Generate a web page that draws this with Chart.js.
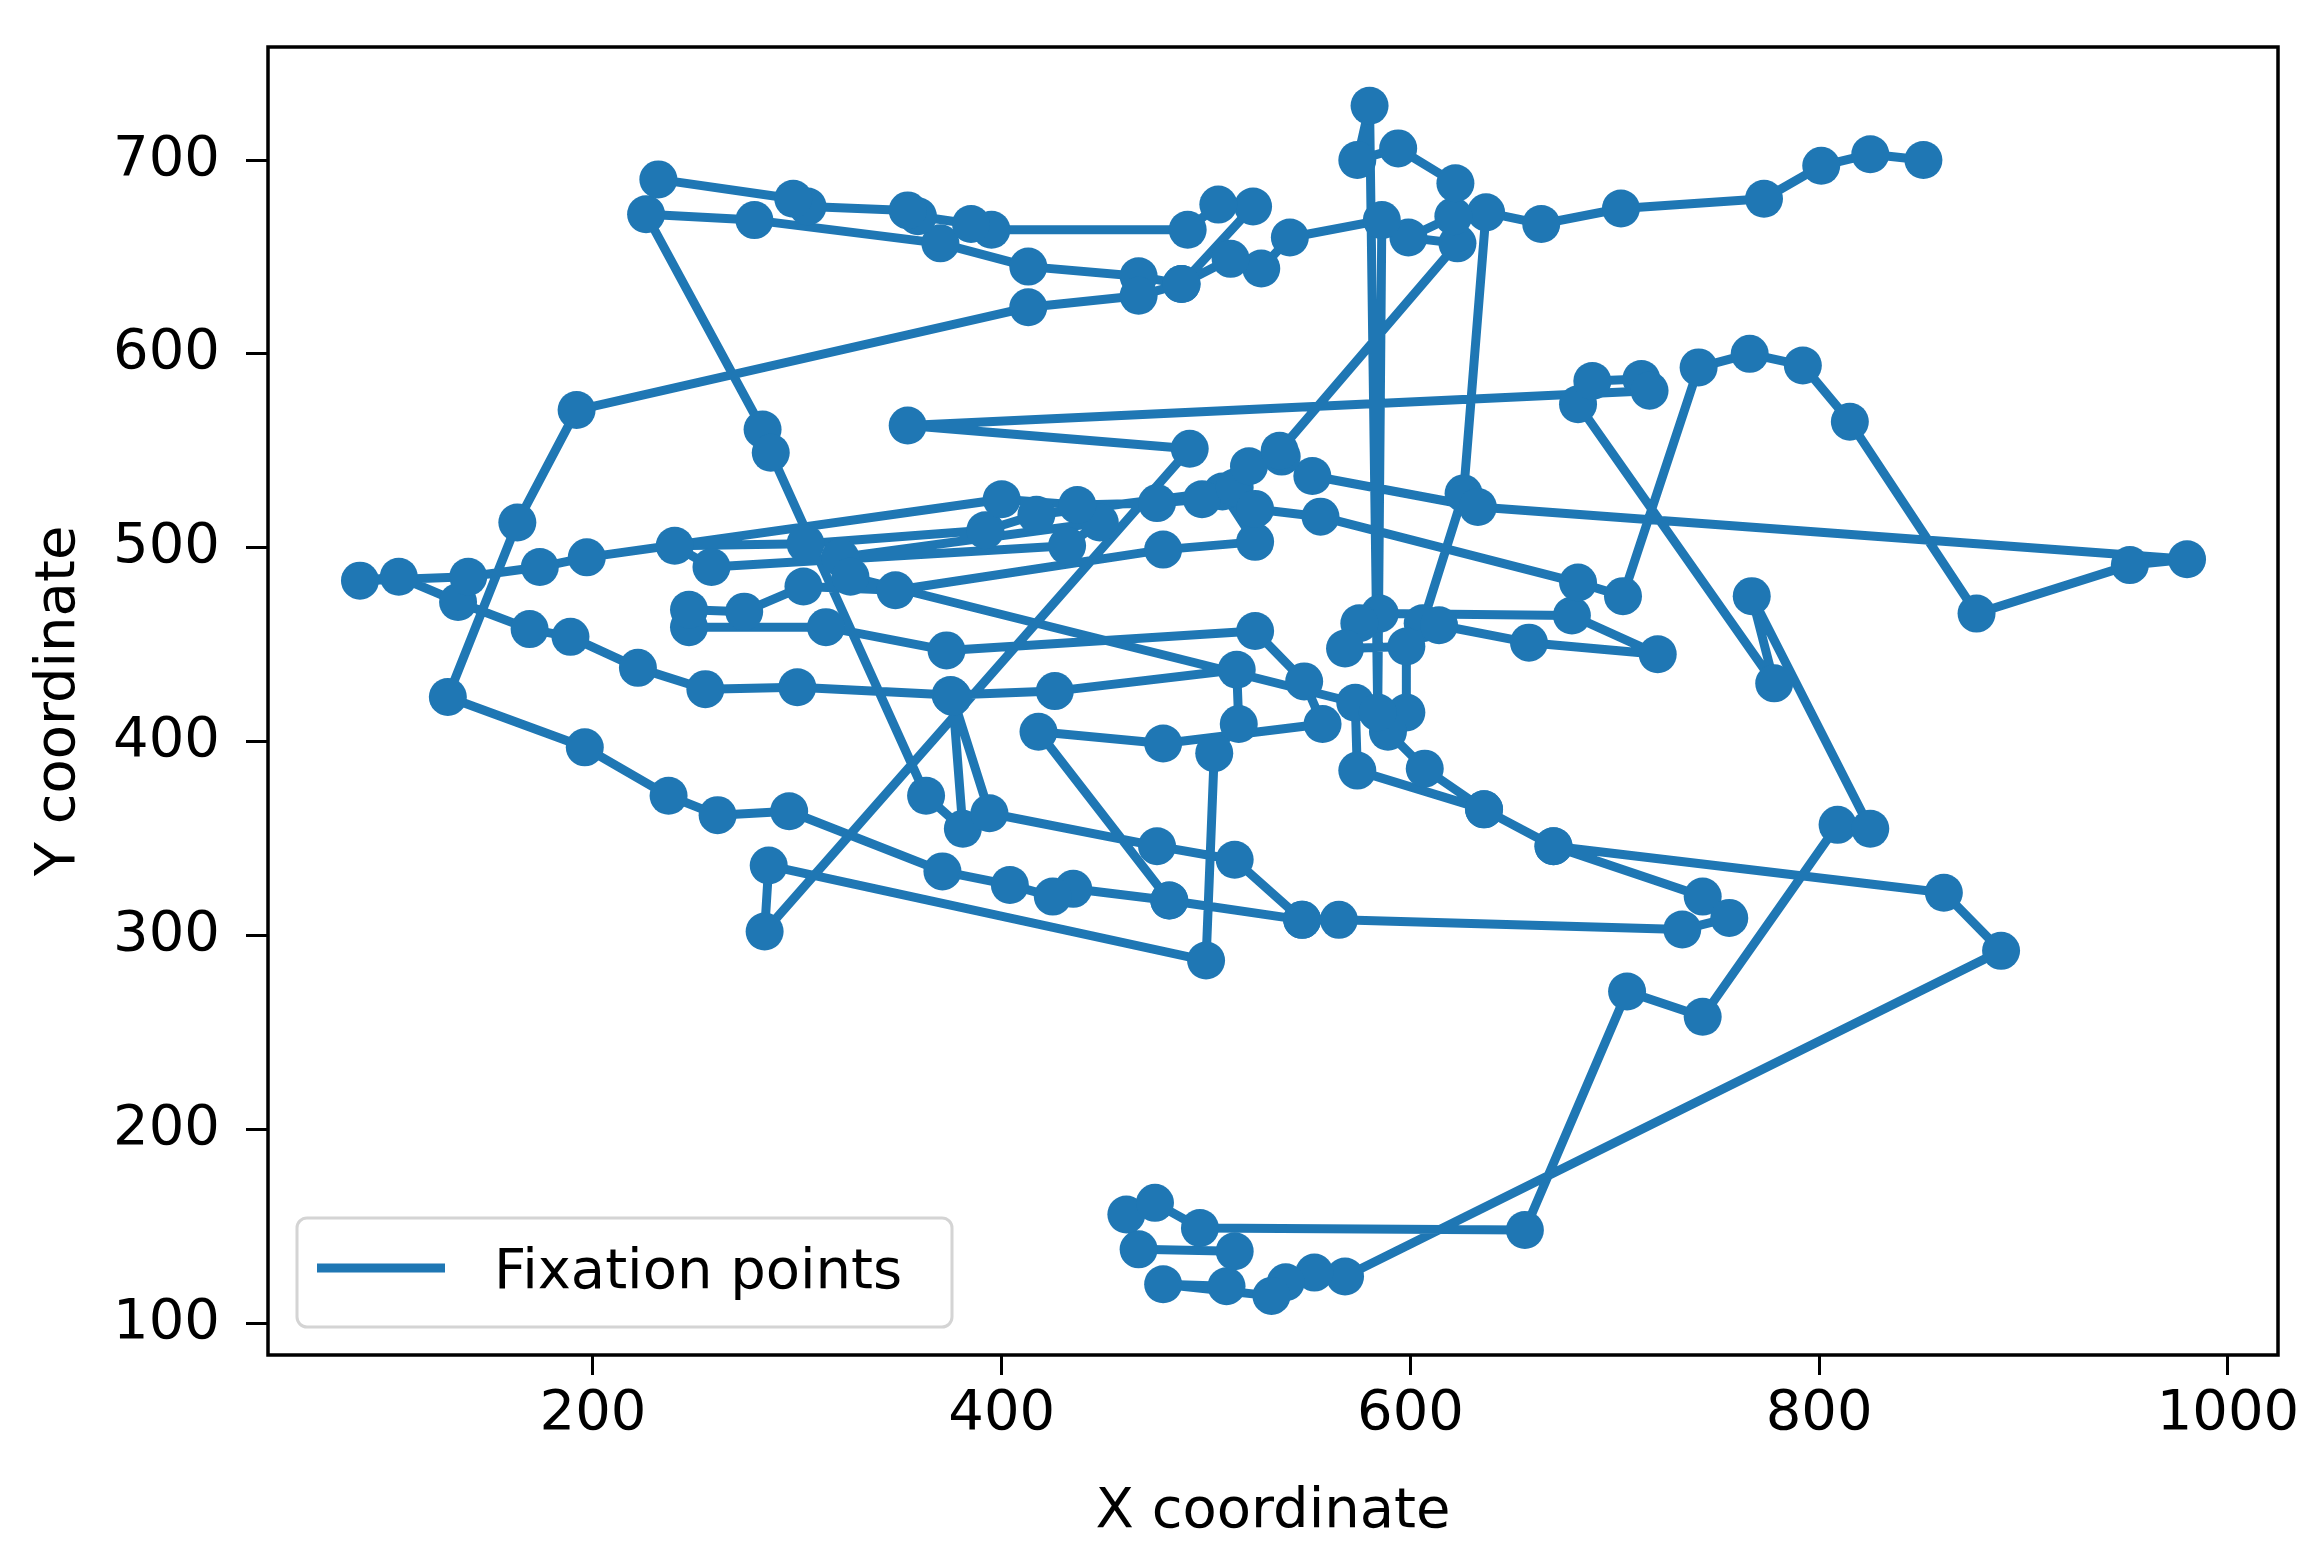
<!DOCTYPE html>
<html>
<head>
<meta charset="utf-8">
<script src="https://cdn.jsdelivr.net/npm/chart.js@4.4.0/dist/chart.umd.min.js"></script>
<style>
    html, body { margin: 0; padding: 0; background: #fff; }
    canvas { display: block; }
</style>
</head>
<body>
<canvas id="fixChart" width="2323" height="1549" style="width:2323px;height:1549px"></canvas>
<script>
// fixation path in drawing order
const xValues = [
    851, 825, 801, 773, 703, 664, 637, 626, 606, 614, 658, 721, 679, 585, 575, 568, 598, 598, 589, 607,
    636, 670, 743, 756, 733, 565, 547, 482, 418, 479, 557, 548, 524, 373, 314, 247, 247, 274, 303, 348,
    479, 524, 508, 417, 392, 304, 240, 258, 432, 448, 321, 326,
    573, 574, 636, 670, 861, 889, 568, 553, 539, 532, 479, 510,
    514, 467, 461, 475, 497, 656, 706, 743, 809, 825, 767, 778, 682, 689, 713, 717, 354, 492, 284, 286,
    500, 504, 516, 515, 426, 375, 300, 255, 222, 189, 169, 134, 105, 86, 139, 174, 197, 400, 437, 476,
    498, 514, 524, 556, 682, 704, 741, 766, 792, 815, 877, 952, 980, 633, 552, 537, 521, 536, 623, 599,
    621, 622, 594, 574, 580, 584, 586,
    541, 527, 512, 488, 467, 413, 370, 279, 226, 283, 287, 363, 381, 376, 394, 476, 514, 547, 482, 435, 425,
    404, 371, 296, 261, 237, 196, 129, 163, 192, 413, 467, 488, 523, 506, 491, 395, 385, 359, 354, 305,
    298, 232
];
const yValues = [
    700, 703, 697, 680, 675, 667, 673, 528, 461, 460, 451, 445, 465, 466, 461, 448, 449, 415, 405, 386,
    365, 346, 320, 309, 303, 308, 308, 318, 405, 399, 409, 431, 457, 447, 459, 459, 468, 467, 480, 478,
    499, 503, 529, 517, 509, 502, 501, 490, 501, 513, 495, 485,
    420, 385, 365, 346, 322, 292, 124, 126, 121, 114, 120, 119,
    137, 138, 156, 162, 149, 148, 271, 258, 357, 355, 475, 430, 574, 586, 587, 581, 563, 551, 302, 336,
    287, 394, 409, 437, 426, 424, 428, 427, 438, 454, 458, 472, 485, 483, 485, 490, 495, 525, 522, 523,
    525, 531, 520, 516, 482, 475, 593, 600, 594, 565, 466, 491, 494, 521, 537, 547, 542, 550, 657, 660,
    671, 688, 706, 700, 728, 415, 669,
    660, 644, 649, 636, 640, 645, 657, 669, 672, 561, 549, 372, 355, 423, 363, 346, 339, 308, 318, 324, 320,
    326, 333, 364, 362, 372, 397, 423, 513, 571, 624, 630, 636, 676, 677, 664, 664, 667, 671, 674, 676,
    680, 690
];
const xTicks = [200, 400, 600, 800, 1000];
const yTicks = [100, 200, 300, 400, 500, 600, 700];
const seriesName = 'Fixation points';
const xTitle = 'X coordinate';
const yTitle = 'Y coordinate';

const blue = '#1f77b4';
const fontFam = '"DejaVu Sans", sans-serif';

const points = xValues.map((x, i) => ({ x: x, y: yValues[i] }));

// frame, axis titles and legend box drawn like matplotlib
const decorPlugin = {
    id: 'decor',
    afterDraw(chart) {
        const ctx = chart.ctx;
        const a = chart.chartArea;
        ctx.save();
        ctx.strokeStyle = '#000';
        ctx.lineWidth = 3.5;
        ctx.strokeRect(a.left, a.top, a.right - a.left, a.bottom - a.top);

        ctx.fillStyle = '#000';
        ctx.font = '56px ' + fontFam;
        ctx.textAlign = 'center';
        ctx.textBaseline = 'alphabetic';
        ctx.fillText(xTitle, (a.left + a.right) / 2, 1527);

        ctx.save();
        ctx.translate(74, (a.top + a.bottom) / 2);
        ctx.rotate(-Math.PI / 2);
        ctx.fillText(yTitle, 0, 0);
        ctx.restore();

        // legend
        const bx = 297, by = 1218, bw = 655, bh = 109, r = 10;
        ctx.beginPath();
        ctx.moveTo(bx + r, by);
        ctx.arcTo(bx + bw, by, bx + bw, by + bh, r);
        ctx.arcTo(bx + bw, by + bh, bx, by + bh, r);
        ctx.arcTo(bx, by + bh, bx, by, r);
        ctx.arcTo(bx, by, bx + bw, by, r);
        ctx.closePath();
        ctx.fillStyle = 'rgba(255,255,255,0.8)';
        ctx.fill();
        ctx.strokeStyle = '#d4d4d4';
        ctx.lineWidth = 3;
        ctx.stroke();

        ctx.strokeStyle = blue;
        ctx.lineWidth = 9;
        ctx.beginPath();
        ctx.moveTo(317, 1268);
        ctx.lineTo(445, 1268);
        ctx.stroke();

        ctx.fillStyle = '#000';
        ctx.textAlign = 'left';
        ctx.fillText(seriesName, 494, 1288);
        ctx.restore();
    }
};

new Chart(document.getElementById('fixChart').getContext('2d'), {
    type: 'scatter',
    data: {
        datasets: [{
            label: seriesName,
            data: points,
            showLine: true,
            borderColor: blue,
            backgroundColor: blue,
            borderWidth: 9,
            borderJoinStyle: 'round',
            borderCapStyle: 'round',
            pointRadius: 19,
            pointHoverRadius: 19,
            pointBorderWidth: 0,
            tension: 0
        }]
    },
    options: {
        responsive: false,
        animation: false,
        devicePixelRatio: 1,
        layout: { padding: { top: 47, right: 45, left: 0, bottom: 0 } },
        plugins: {
            legend: { display: false },
            tooltip: { enabled: false }
        },
        scales: {
            x: {
                type: 'linear',
                min: 41,
                max: 1024.5,
                afterBuildTicks: (s) => { s.ticks = xTicks.map(v => ({ value: v })); },
                afterFit: (s) => { s.height = 194; s.paddingLeft = 0; s.paddingRight = 0; },
                border: { display: false },
                grid: { drawOnChartArea: false, drawTicks: true, tickLength: 20, tickWidth: 3, color: '#000' },
                ticks: {
                    color: '#000', padding: 6, maxRotation: 0,
                    font: { family: fontFam, size: 56 },
                    callback: (v) => String(v)
                }
            },
            y: {
                type: 'linear',
                min: 83.5,
                max: 758.3,
                afterBuildTicks: (s) => { s.ticks = yTicks.map(v => ({ value: v })); },
                afterFit: (s) => { s.width = 268; s.paddingTop = 0; s.paddingBottom = 0; },
                border: { display: false },
                grid: { drawOnChartArea: false, drawTicks: true, tickLength: 22, tickWidth: 3, color: '#000' },
                ticks: {
                    color: '#000', padding: 26,
                    font: { family: fontFam, size: 56 },
                    callback: (v) => String(v)
                }
            }
        }
    },
    plugins: [decorPlugin]
});
</script>
</body>
</html>
